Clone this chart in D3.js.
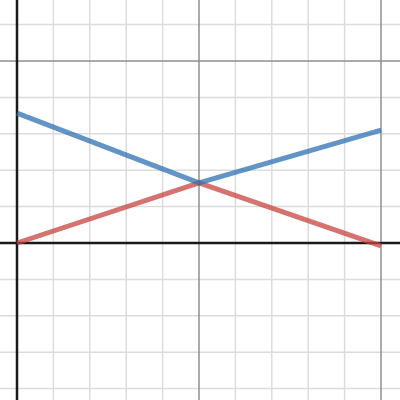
<!DOCTYPE html>
<html>
<head>
<meta charset="utf-8">
<script src="https://cdn.jsdelivr.net/npm/d3@7"></script>
<style>
  html, body { margin: 0; padding: 0; background: #fff; }
  svg { display: block; }
</style>
</head>
<body>
<svg width="400" height="400"></svg>
<script>
// data (graph units, one minor grid cell = 1)
const xValues = [0, 5, 10];
const blueValues = [3.57, 1.65, 3.1];
const redValues = [0, 1.65, -0.08];

// grid lines
const xGrid = [-1, 0, 1, 2, 3, 4, 5, 6, 7, 8, 9, 10, 11];
const yGrid = [-5, -4, -3, -2, -1, 0, 1, 2, 3, 4, 5, 6, 7];

const svg = d3.select('svg');
const width = +svg.attr('width');
const height = +svg.attr('height');

const unit = 36.4;
const origin = { x: 17, y: 243 };

const xScale = d3.scaleLinear()
    .domain([-origin.x / unit, (width - origin.x) / unit])
    .range([0, width]);

const yScale = d3.scaleLinear()
    .domain([-(height - origin.y) / unit, origin.y / unit])
    .range([height, 0]);

const isMajor = v => v % 5 === 0;

// minor grid first, then major, then axes
const gridG = svg.append('g');

const drawV = (vals, color, w) => gridG.selectAll(null)
    .data(vals).enter().append('line')
    .attr('x1', d => xScale(d)).attr('x2', d => xScale(d))
    .attr('y1', 0).attr('y2', height)
    .attr('stroke', color).attr('stroke-width', w);

const drawH = (vals, color, w) => gridG.selectAll(null)
    .data(vals).enter().append('line')
    .attr('y1', d => yScale(d)).attr('y2', d => yScale(d))
    .attr('x1', 0).attr('x2', width)
    .attr('stroke', color).attr('stroke-width', w);

drawV(xGrid.filter(d => !isMajor(d)), '#dcdcdc', 1.5);
drawH(yGrid.filter(d => !isMajor(d)), '#dcdcdc', 1.5);
drawV(xGrid.filter(d => isMajor(d) && d !== 0), '#8f8f8f', 1.5);
drawH(yGrid.filter(d => isMajor(d) && d !== 0), '#8f8f8f', 1.5);
drawV([0], '#1a1a1a', 2.5);
drawH([0], '#1a1a1a', 2.5);

const line = d3.line()
    .x(d => xScale(d[0]))
    .y(d => yScale(d[1]));

svg.append('path')
    .datum(xValues.map((x, i) => [x, redValues[i]]))
    .attr('d', line)
    .attr('fill', 'none')
    .attr('stroke', '#c74440')
    .attr('stroke-opacity', 0.75)
    .attr('stroke-width', 5)
    .attr('stroke-linejoin', 'round');

svg.append('path')
    .datum(xValues.map((x, i) => [x, blueValues[i]]))
    .attr('d', line)
    .attr('fill', 'none')
    .attr('stroke', '#2d70b3')
    .attr('stroke-opacity', 0.75)
    .attr('stroke-width', 5)
    .attr('stroke-linejoin', 'round');
</script>
</body>
</html>
